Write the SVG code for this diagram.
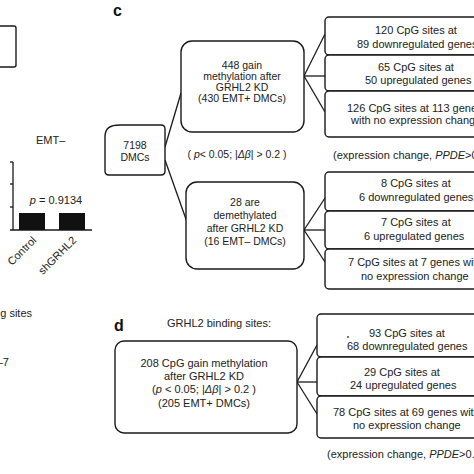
<svg xmlns="http://www.w3.org/2000/svg" width="474" height="474" viewBox="0 0 474 474">
<style>
text{font-family:"Liberation Sans",Arial,sans-serif;fill:#222;}
.t{font-size:11px;}
.m{font-size:10.5px;text-anchor:middle;}
.b{font-weight:bold;font-size:16px;fill:#111;}
.box{fill:#fff;stroke:#1a1a1a;stroke-width:1.4;}
.ln{stroke:#1a1a1a;stroke-width:1.3;fill:none;}
.i{font-style:italic;}
</style>
<rect width="474" height="474" fill="#fff"/>

<g id="left-partial">
  <rect class="box" x="-10" y="26" width="26" height="41" rx="2"/>
  <text class="t" x="36" y="144">EMT–</text>
  <line class="ln" x1="13" y1="162" x2="13" y2="230"/>
  <line class="ln" x1="10" y1="162" x2="13" y2="162"/>
  <line class="ln" x1="10" y1="184" x2="13" y2="184"/>
  <line class="ln" x1="10" y1="207" x2="13" y2="207"/>
  <line class="ln" x1="10" y1="230" x2="92" y2="230"/>
  <rect x="19" y="213" width="26" height="17" fill="#111"/>
  <rect x="59" y="213" width="26" height="17" fill="#111"/>
  <text class="t" x="56" y="204" text-anchor="middle"><tspan class="i">p</tspan> = 0.9134</text>
  <text class="t" x="37" y="241" text-anchor="end" transform="rotate(-45 37 241)">Control</text>
  <text class="t" x="77" y="241" text-anchor="end" transform="rotate(-45 77 241)">shGRHL2</text>
  <text class="t" x="32" y="317" text-anchor="end">g sites</text>
  <text class="t" x="9" y="366" text-anchor="end">–7</text>
</g>

<text class="b" x="113" y="16">c</text>

<g id="connectors">
  <line class="ln" x1="165" y1="147" x2="181" y2="93"/>
  <line class="ln" x1="165" y1="160" x2="187" y2="222"/>
  <line class="ln" x1="304" y1="76" x2="325" y2="34"/>
  <line class="ln" x1="304" y1="76" x2="325" y2="76"/>
  <line class="ln" x1="304" y1="76" x2="325" y2="112"/>
  <line class="ln" x1="304" y1="230" x2="325" y2="198"/>
  <line class="ln" x1="304" y1="230" x2="325" y2="230"/>
  <line class="ln" x1="304" y1="230" x2="325" y2="262"/>
  <line class="ln" x1="297" y1="382" x2="317" y2="345"/>
  <line class="ln" x1="297" y1="382" x2="317" y2="382"/>
  <line class="ln" x1="297" y1="382" x2="317" y2="414"/>
</g>

<g id="n7198">
  <path class="box" d="M105,137 C105,128 110,125 120,125 L161,125 Q165,125 165,129 L165,171 Q165,175 161,175 L109,175 Q105,175 105,171 Z"/>
  <text class="m" x="135" y="149">7198</text>
  <text class="m" x="135" y="161">DMCs</text>
</g>

<g id="n448">
  <rect class="box" x="181" y="41" width="123" height="91" rx="11"/>
  <text class="m" x="242" y="69">448 gain</text>
  <text class="m" x="242" y="80">methylation after</text>
  <text class="m" x="242" y="91">GRHL2 KD</text>
  <text class="m" x="242" y="102">(430 EMT+ DMCs)</text>
</g>

<text class="m" x="237" y="158">( <tspan class="i">p</tspan>&lt; 0.05; |<tspan class="i">Δβ</tspan>| &gt; 0.2 )</text>

<g id="n28">
  <rect class="box" x="186" y="182" width="118" height="87" rx="11"/>
  <text class="m" x="245" y="206">28 are</text>
  <text class="m" x="245" y="219">demethylated</text>
  <text class="m" x="245" y="232">after GRHL2 KD</text>
  <text class="m" x="245" y="245">(16 EMT– DMCs)</text>
</g>

<g id="c-up-1">
  <rect class="box" x="325" y="17" width="170" height="38" rx="4"/>
  <text class="t" x="375" y="34">120 CpG sites at</text>
  <text class="t" x="357" y="48">89 downregulated genes</text>
</g>
<g id="c-up-2">
  <rect class="box" x="325" y="55" width="170" height="36" rx="4"/>
  <text class="t" x="378" y="71">65 CpG sites at</text>
  <text class="t" x="365" y="84">50 upregulated genes</text>
</g>
<g id="c-up-3">
  <rect class="box" x="325" y="91" width="170" height="46" rx="4"/>
  <text class="t" x="347" y="112">126 CpG sites at 113 genes</text>
  <text class="t" x="351" y="124">with no expression change</text>
</g>
<text class="t" x="333" y="159">(expression change, <tspan class="i">PPDE</tspan>&gt;0.</text>

<g id="c-dn-1">
  <rect class="box" x="325" y="172" width="170" height="39" rx="4"/>
  <text class="t" x="381" y="187">8 CpG sites at</text>
  <text class="t" x="359" y="201">6 downregulated genes</text>
</g>
<g id="c-dn-2">
  <rect class="box" x="325" y="211" width="170" height="38" rx="4"/>
  <text class="t" x="381" y="226">7 CpG sites at</text>
  <text class="t" x="364" y="240">6 upregulated genes</text>
</g>
<g id="c-dn-3">
  <rect class="box" x="325" y="249" width="170" height="40" rx="4"/>
  <text class="t" x="348" y="266">7 CpG sites at 7 genes with</text>
  <text class="t" x="361" y="280">no expression change</text>
</g>

<text class="b" x="114" y="331">d</text>
<text class="t" x="167" y="327">GRHL2 binding sites:</text>

<g id="n208">
  <rect class="box" x="115" y="341" width="182" height="92" rx="9"/>
  <text class="t" x="204" y="367" text-anchor="middle">208 CpG gain methylation</text>
  <text class="t" x="204" y="380" text-anchor="middle">after GRHL2 KD</text>
  <text class="t" x="204" y="393" text-anchor="middle">(<tspan class="i">p</tspan> &lt; 0.05; |<tspan class="i">Δβ</tspan>| &gt; 0.2 )</text>
  <text class="t" x="204" y="407" text-anchor="middle">(205 EMT+ DMCs)</text>
</g>

<g id="d-1">
  <rect class="box" x="317" y="314" width="180" height="43" rx="4"/>
  <circle cx="348" cy="337" r="0.9" fill="#333"/>
  <text class="t" x="369" y="337">93 CpG sites at</text>
  <text class="t" x="347" y="350">68 downregulated genes</text>
</g>
<g id="d-2">
  <rect class="box" x="317" y="357" width="180" height="39" rx="4"/>
  <text class="t" x="364" y="376">29 CpG sites at</text>
  <text class="t" x="350" y="389">24 upregulated genes</text>
</g>
<g id="d-3">
  <rect class="box" x="317" y="396" width="180" height="42" rx="4"/>
  <text class="t" x="333" y="416">78 CpG sites at 69 genes  with</text>
  <text class="t" x="353" y="429">no expression change</text>
</g>
<text class="t" x="327" y="458">(expression change, <tspan class="i">PPDE</tspan>&gt;0.</text>
</svg>
